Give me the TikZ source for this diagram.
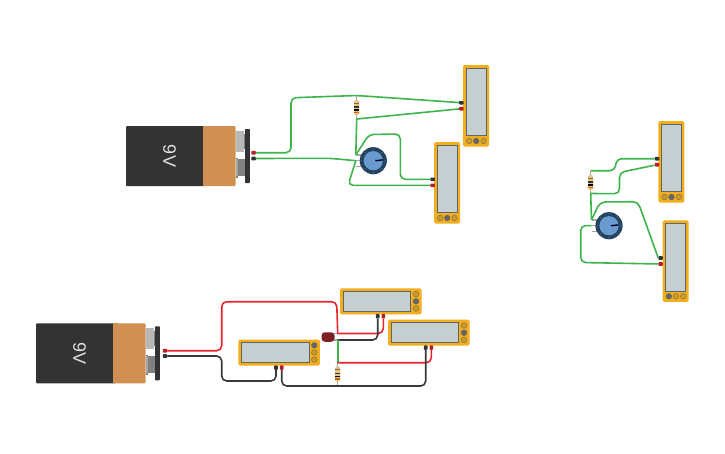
\documentclass[tikz,border=0pt]{standalone}
\usepackage{fontspec}
\setmainfont{Liberation Sans}
\definecolor{myel}{HTML}{F2AE1C}
\definecolor{mscr}{HTML}{C5CFD2}
\definecolor{mbrd}{HTML}{5E6666}
\definecolor{bdark}{HTML}{333333}
\definecolor{born}{HTML}{D09052}
\definecolor{wgreen}{HTML}{3DB54A}
\definecolor{wred}{HTML}{E6262B}
\definecolor{wblack}{HTML}{3A3A3A}
\definecolor{pnavy}{HTML}{24435F}
\definecolor{pblue}{HTML}{6A9BD0}
\definecolor{ledc}{HTML}{7E1F22}
\definecolor{rtan}{HTML}{E3C48A}
\tikzset{
 wg/.style={draw=wgreen,line width=1.6pt,rounded corners=5pt},
 wr/.style={draw=wred,line width=1.6pt,rounded corners=5pt},
 wk/.style={draw=wblack,line width=1.6pt,rounded corners=5pt},
 lead/.style={draw=black!35,line width=1.2pt},
 pinr/.style={fill=wred!80!black,minimum width=4.5pt,minimum height=3.6pt,inner sep=0pt,rounded corners=.8pt},
 pink/.style={fill=bdark,minimum width=4.5pt,minimum height=3.6pt,inner sep=0pt,rounded corners=.8pt},
 mbody/.style={fill=myel,rounded corners=1.5pt},
 mscreen/.style={fill=mscr,draw=mbrd,line width=1pt},
 mbtn/.style={circle,draw=black!55,fill=myel!88!black,line width=.5pt,minimum size=5.6pt,inner sep=0pt},
 mbtnd/.style={circle,draw=black!60,fill=black!60,line width=.5pt,minimum size=5.6pt,inner sep=0pt},
}
% vertical meter: name, left x, top y, button style 1,2,3
\newcommand{\vmeter}[6]{%
 \fill[mbody] (#2,#3) rectangle ++(26,81.5);
 \draw[mscreen] (#2+3,#3+3.2) rectangle ++(20,67.6);
 \node[#4] (#1b1) at (#2+6.2,#3+76) {};
 \node[#5] (#1b2) at (#2+13.2,#3+76) {};
 \node[#6] (#1b3) at (#2+20.6,#3+76) {};
}
% horizontal meter: name, left x, top y, button style 1,2,3
\newcommand{\hmeter}[6]{%
 \fill[mbody] (#2,#3) rectangle ++(81.5,26);
 \draw[mscreen] (#2+3.3,#3+3.2) rectangle ++(67.6,20);
 \node[#4] (#1b1) at (#2+76,#3+5.8) {};
 \node[#5] (#1b2) at (#2+76,#3+13) {};
 \node[#6] (#1b3) at (#2+76,#3+20.2) {};
}
% battery: name, left x, top y
\newcommand{\batt}[3]{%
 \fill[bdark,rounded corners=1pt] (#2,#3) rectangle ++(80,60);
 \fill[born,rounded corners=1pt] (#2+77,#3) rectangle ++(32.5,60);
 \fill[born] (#2+77,#3) rectangle ++(5,60);
 \fill[black!28] (#2+109.5,#3+5) rectangle ++(8,20.5);
 \fill[black!50] (#2+117.5,#3+8) rectangle ++(2,14.5);
 \fill[black!50] (#2+109.5,#3+31.5) rectangle ++(2.5,20.5);
 \fill[black!50] (#2+112,#3+32.5) rectangle ++(7,17);
 \fill[black!35] (#2+109.5,#3+33) rectangle ++(2.5,17);
 \fill[bdark,rounded corners=.7pt] (#2+119,#3+3) rectangle ++(4.8,54);
 \node[rotate=-90,text=black!12,font=\fontsize{18}{18}\selectfont,inner sep=0pt] (#1t) at (#2+43.5,#3+30) {9V};
}
% resistor: name, cx, top lead y, bottom lead y, body centre y
\newcommand{\resist}[5]{%
 \draw[lead] (#2,#3) -- (#2,#4);
 \fill[rtan,rounded corners=1.5pt] (#2-2.7,#5-7.5) rectangle ++(5.4,15);
 \fill[born!70!black] (#2-2.7,#5-5) rectangle ++(5.4,1.4);
 \fill[black!80] (#2-2.7,#5-1.5) rectangle ++(5.4,1.6);
 \fill[black] (#2-2.7,#5+1.6) rectangle ++(5.4,1.6);
 \fill[orange!80!black] (#2-2.7,#5+4.2) rectangle ++(5.4,1.3);
 \coordinate (#1top) at (#2,#3);
 \coordinate (#1bot) at (#2,#4);
}
% pot: name, cx, cy
\newcommand{\pot}[3]{%
 \draw[lead] (#2-17.5,#3-5.8) -- (#2-5,#3-5.8);
 \draw[lead] (#2-17.5,#3) -- (#2-5,#3);
 \draw[lead] (#2-17.5,#3+5.8) -- (#2-5,#3+5.8);
 \fill[pnavy] (#2,#3) circle (13.6);
 \foreach \a in {0,45,...,315} \fill[pblue!70!pnavy] (#2,#3) ++(\a:11.7) circle (.55);
 \fill[pblue] (#2,#3) circle (9.6);
 \draw[black!85!blue,line width=1.4pt] (#2+2,#3) -- (#2+9.5,#3-.8);
 \coordinate (#1a) at (#2-17.5,#3-5.8);
 \coordinate (#1b) at (#2-17.5,#3);
 \coordinate (#1c) at (#2-17.5,#3+5.8);
}
\begin{document}
\begin{tikzpicture}[x=1pt,y=-1pt]
\useasboundingbox (0,0) rectangle (725,453);
\fill[white] (0,0) rectangle (725,453);
% ---------- top-left circuit
\batt{ba}{126}{126}
\resist{ra}{356.7}{95.5}{119}{107.5}
\pot{pa}{373.3}{160.7}
\vmeter{ma}{463}{65}{mbtn}{mbtnd}{mbtn}
\vmeter{mb}{434}{142}{mbtn}{mbtnd}{mbtn}
\node[pinr] (bar) at (253.5,152.7) {};
\node[pink] (bak) at (253.5,158.5) {};
\node[pink] (mak) at (461.3,102.7) {};
\node[pinr] (mar) at (461.3,108.7) {};
\node[pink] (mbk) at (432.7,179.3) {};
\node[pinr] (mbr) at (432.7,185.3) {};
\draw[wg] (bar) -- (291,152.7) -- (291,97.8) -- (ratop) -- (mak);
\draw[wg] (bak) -- (330,158.3) -- (pab);
\draw[wg] (rabot) -- (mar);
\draw[wg] (rabot) -- (paa);
\draw[wg] (paa) -- (369,134.5) -- (400.3,134) -- (400.3,179.3) -- (mbk);
\draw[wg] (pab) -- (348,185.3) -- (mbr);
% ---------- right circuit
\resist{rb}{590.7}{170.7}{193.5}{182.5}
\pot{pb}{609}{225.7}
\vmeter{mc}{658.3}{121}{mbtn}{mbtnd}{mbtn}
\vmeter{md}{662.7}{220.3}{mbtnd}{mbtn}{mbtn}
\node[pink] (mck) at (657,158.7) {};
\node[pinr] (mcr) at (657,164.7) {};
\node[pink] (mdk) at (660.7,258) {};
\node[pinr] (mdr) at (660.7,264) {};
\draw[wg] (rbtop) -- (615,170.7) -- (616.5,158.7) -- (mck);
\draw[wg] (rbbot) -- (619.5,193.7) -- (619.5,172.5) -- (mcr);
\draw[wg] (rbbot) -- (pba);
\draw[wg] (pba) -- (600,202) -- (638,201.7) -- (mdk.west);
\draw[wg] (pbb) -- (580.7,225.5) -- (580.7,262.5) -- (mdr);
% ---------- bottom circuit
\batt{bb}{36}{323.3}
\hmeter{me}{340}{288.3}{mbtn}{mbtnd}{mbtn}
\hmeter{mf}{388}{319.7}{mbtn}{mbtnd}{mbtn}
\hmeter{mg}{238.3}{339.5}{mbtnd}{mbtn}{mbtn}
\resist{rc}{337.7}{362.7}{386}{374}
\node[pinr] (bbr) at (165,350.7) {};
\node[pink] (bbk) at (165,356) {};
\node[pink,minimum width=3.6pt,minimum height=4.5pt] (mek) at (377.7,316.2) {};
\node[pinr,minimum width=3.6pt,minimum height=4.5pt] (mer) at (383.3,316.2) {};
\node[pink,minimum width=3.6pt,minimum height=4.5pt] (mfk) at (425.7,347.5) {};
\node[pinr,minimum width=3.6pt,minimum height=4.5pt] (mfr) at (431.3,347.5) {};
\node[pink,minimum width=3.6pt,minimum height=4.5pt] (mgk) at (276,367.5) {};
\node[pinr,minimum width=3.6pt,minimum height=4.5pt] (mgr) at (281.7,367.5) {};
\coordinate (ledA) at (337.7,333.5);
\coordinate (ledC) at (337.7,340);
\draw[lead] (ledA) -- (330,333.5);
\draw[lead] (ledC) -- (330,340);
\node[fill=ledc,minimum width=13pt,minimum height=9.5pt,inner sep=0pt,rounded corners=3.5pt] (led) at (328,337) {};
\draw[wr] (bbr) -- (221.7,350.7) -- (221.7,301.7) -- (336.7,301.7) -- (ledA);
\draw[wr] (ledA) -- (383.3,333.5) -- (mer);
\draw[wk] (ledC) -- (377.7,340) -- (mek);
\draw[wg] (ledC) -- (rctop);
\draw[wr] (rctop) -- (431.3,362.7) -- (mfr);
\draw[wk] (bbk) -- (221.7,356) -- (221.7,381) -- (276,381) -- (mgk);
\draw[wk] (mgr) -- (281.7,386) -- (rcbot) -- (425.7,386) -- (mfk);
\end{tikzpicture}
\end{document}
